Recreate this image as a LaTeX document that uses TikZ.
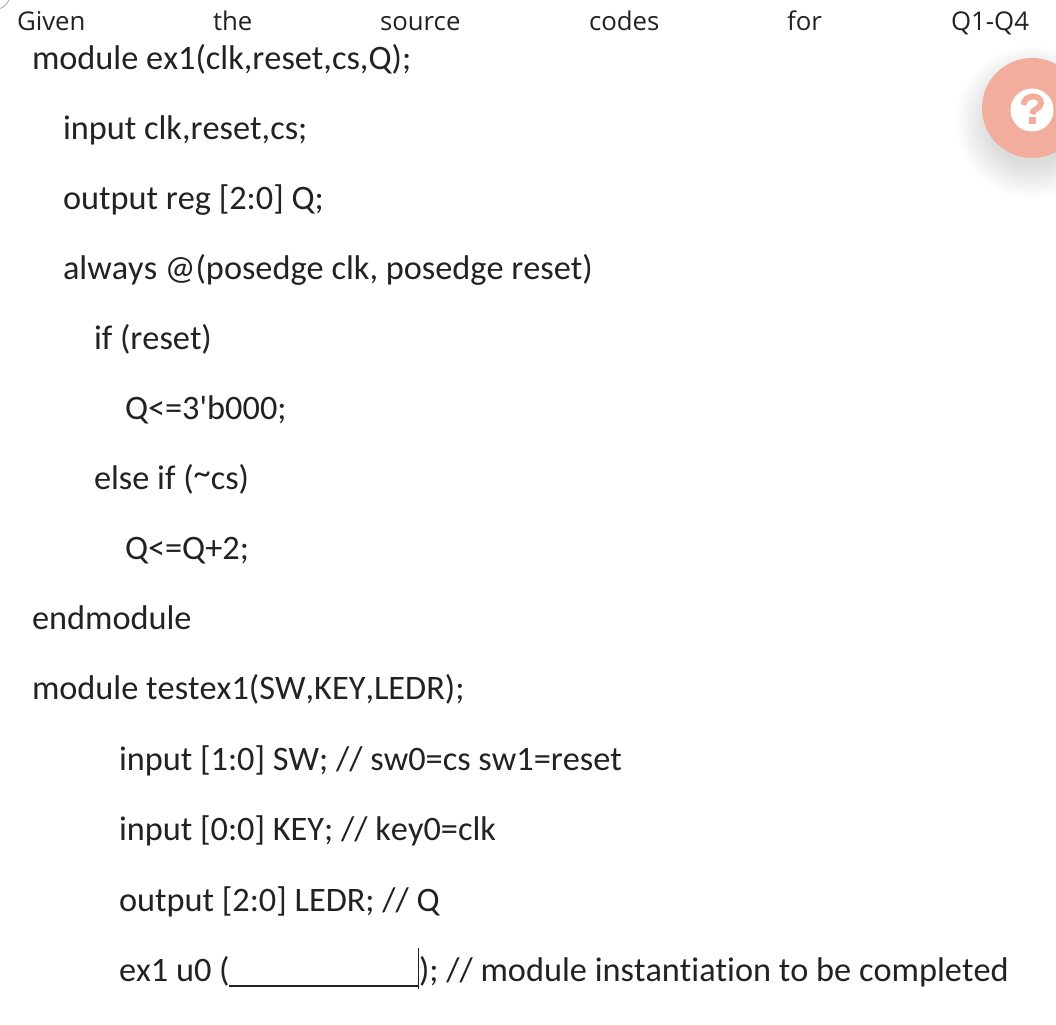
\documentclass[tikz,border=0pt]{standalone}
\usepackage{fontspec}
\newfontfamily\codefont{Carlito}[Ligatures=NoCommon,Kerning=Off]
\newfontfamily\headfont{Open Sans}
\definecolor{fab}{HTML}{F2AD9C}
\definecolor{ink}{HTML}{222222}
\tikzset{
  code/.style={anchor=base west,inner sep=0pt,outer sep=0pt,text=ink,font=\codefont\fontsize{34.3}{40}\selectfont},
  head/.style={anchor=base west,inner sep=0pt,outer sep=0pt,text=ink,font=\headfont\fontsize{25.8}{30}\selectfont},
}
\begin{document}
\begin{tikzpicture}[x=1pt,y=-1pt]
\useasboundingbox (0,0) rectangle (1056,1024);
\clip (0,0) rectangle (1056,1024);
\fill[white] (0,0) rectangle (1056,1024);
% corner arc
\draw[gray!70,line width=0.8pt] (0,8.5) .. controls (4,7) and (7,4) .. (9,0);
% header
\node[head] (h1) at (17,31) {Given};
\node[head] (h2) at (213,31) {the};
\node[head] (h3) at (380,31) {source};
\node[head] (h4) at (589,31) {codes};
\node[head] (h5) at (787,31) {for};
\node[head] (h6) at (951,31) {Q1-Q4};
% code
\node[code] (l1) at (32,70) {module ex1(clk,reset,cs,Q);};
\node[code] (l2) at (63,140) {input clk,reset,cs;};
\node[code] (l3) at (63,210) {output reg [2:0] Q;};
\node[code] (l4) at (63,279) {always @(posedge clk, posedge reset)};
\node[code] (l5) at (94,349) {if (reset)};
\node[code] (l6) at (125,419) {Q<=3{\char39}b000;};
\node[code] (l7) at (94,489) {else if (\raisebox{4.5pt}{\char126}cs)};
\node[code] (l8) at (125,559) {Q<=Q+2;};
\node[code] (l9) at (32,629) {endmodule};
\node[code] (l10) at (32,699.5) {module testex1(SW,KEY,LEDR);};
\node[code] (l11) at (119,770) {input [1:0] SW; // sw0=cs sw1=reset};
\node[code] (l12) at (119,840) {input [0:0] KEY; // key0=clk};
\node[code] (l13) at (119,911) {output [2:0] LEDR; // Q};
\node[code] (l14) at (119,981) {ex1 u0 (};
\node[code] (l15) at (419,981) {); // module instantiation to be completed};
\coordinate (blankA) at (229,986);
\coordinate (blankB) at (418,986);
\coordinate (caretA) at (418,948);
\coordinate (caretB) at (418,989);
\draw[ink,line width=2pt] (blankA) -- (blankB);
\draw[ink,line width=0.7pt] (caretA) -- (caretB);
% floating help button with soft shadow
\foreach \r in {76,74,...,44}{
  \fill[black,opacity=0.008] (1032,122) circle (\r);
}
\fill[fab] (1032,108) circle (50);
\fill[white] (1032,110) circle (21.5);
\draw[fab,line width=6pt] (1023.5,105) .. controls (1024,94) and (1041,94) .. (1041,103) .. controls (1041,109) and (1032,109) .. (1032,114);
\fill[fab] (1028.5,117) rectangle (1035.5,124);
\end{tikzpicture}
\end{document}
